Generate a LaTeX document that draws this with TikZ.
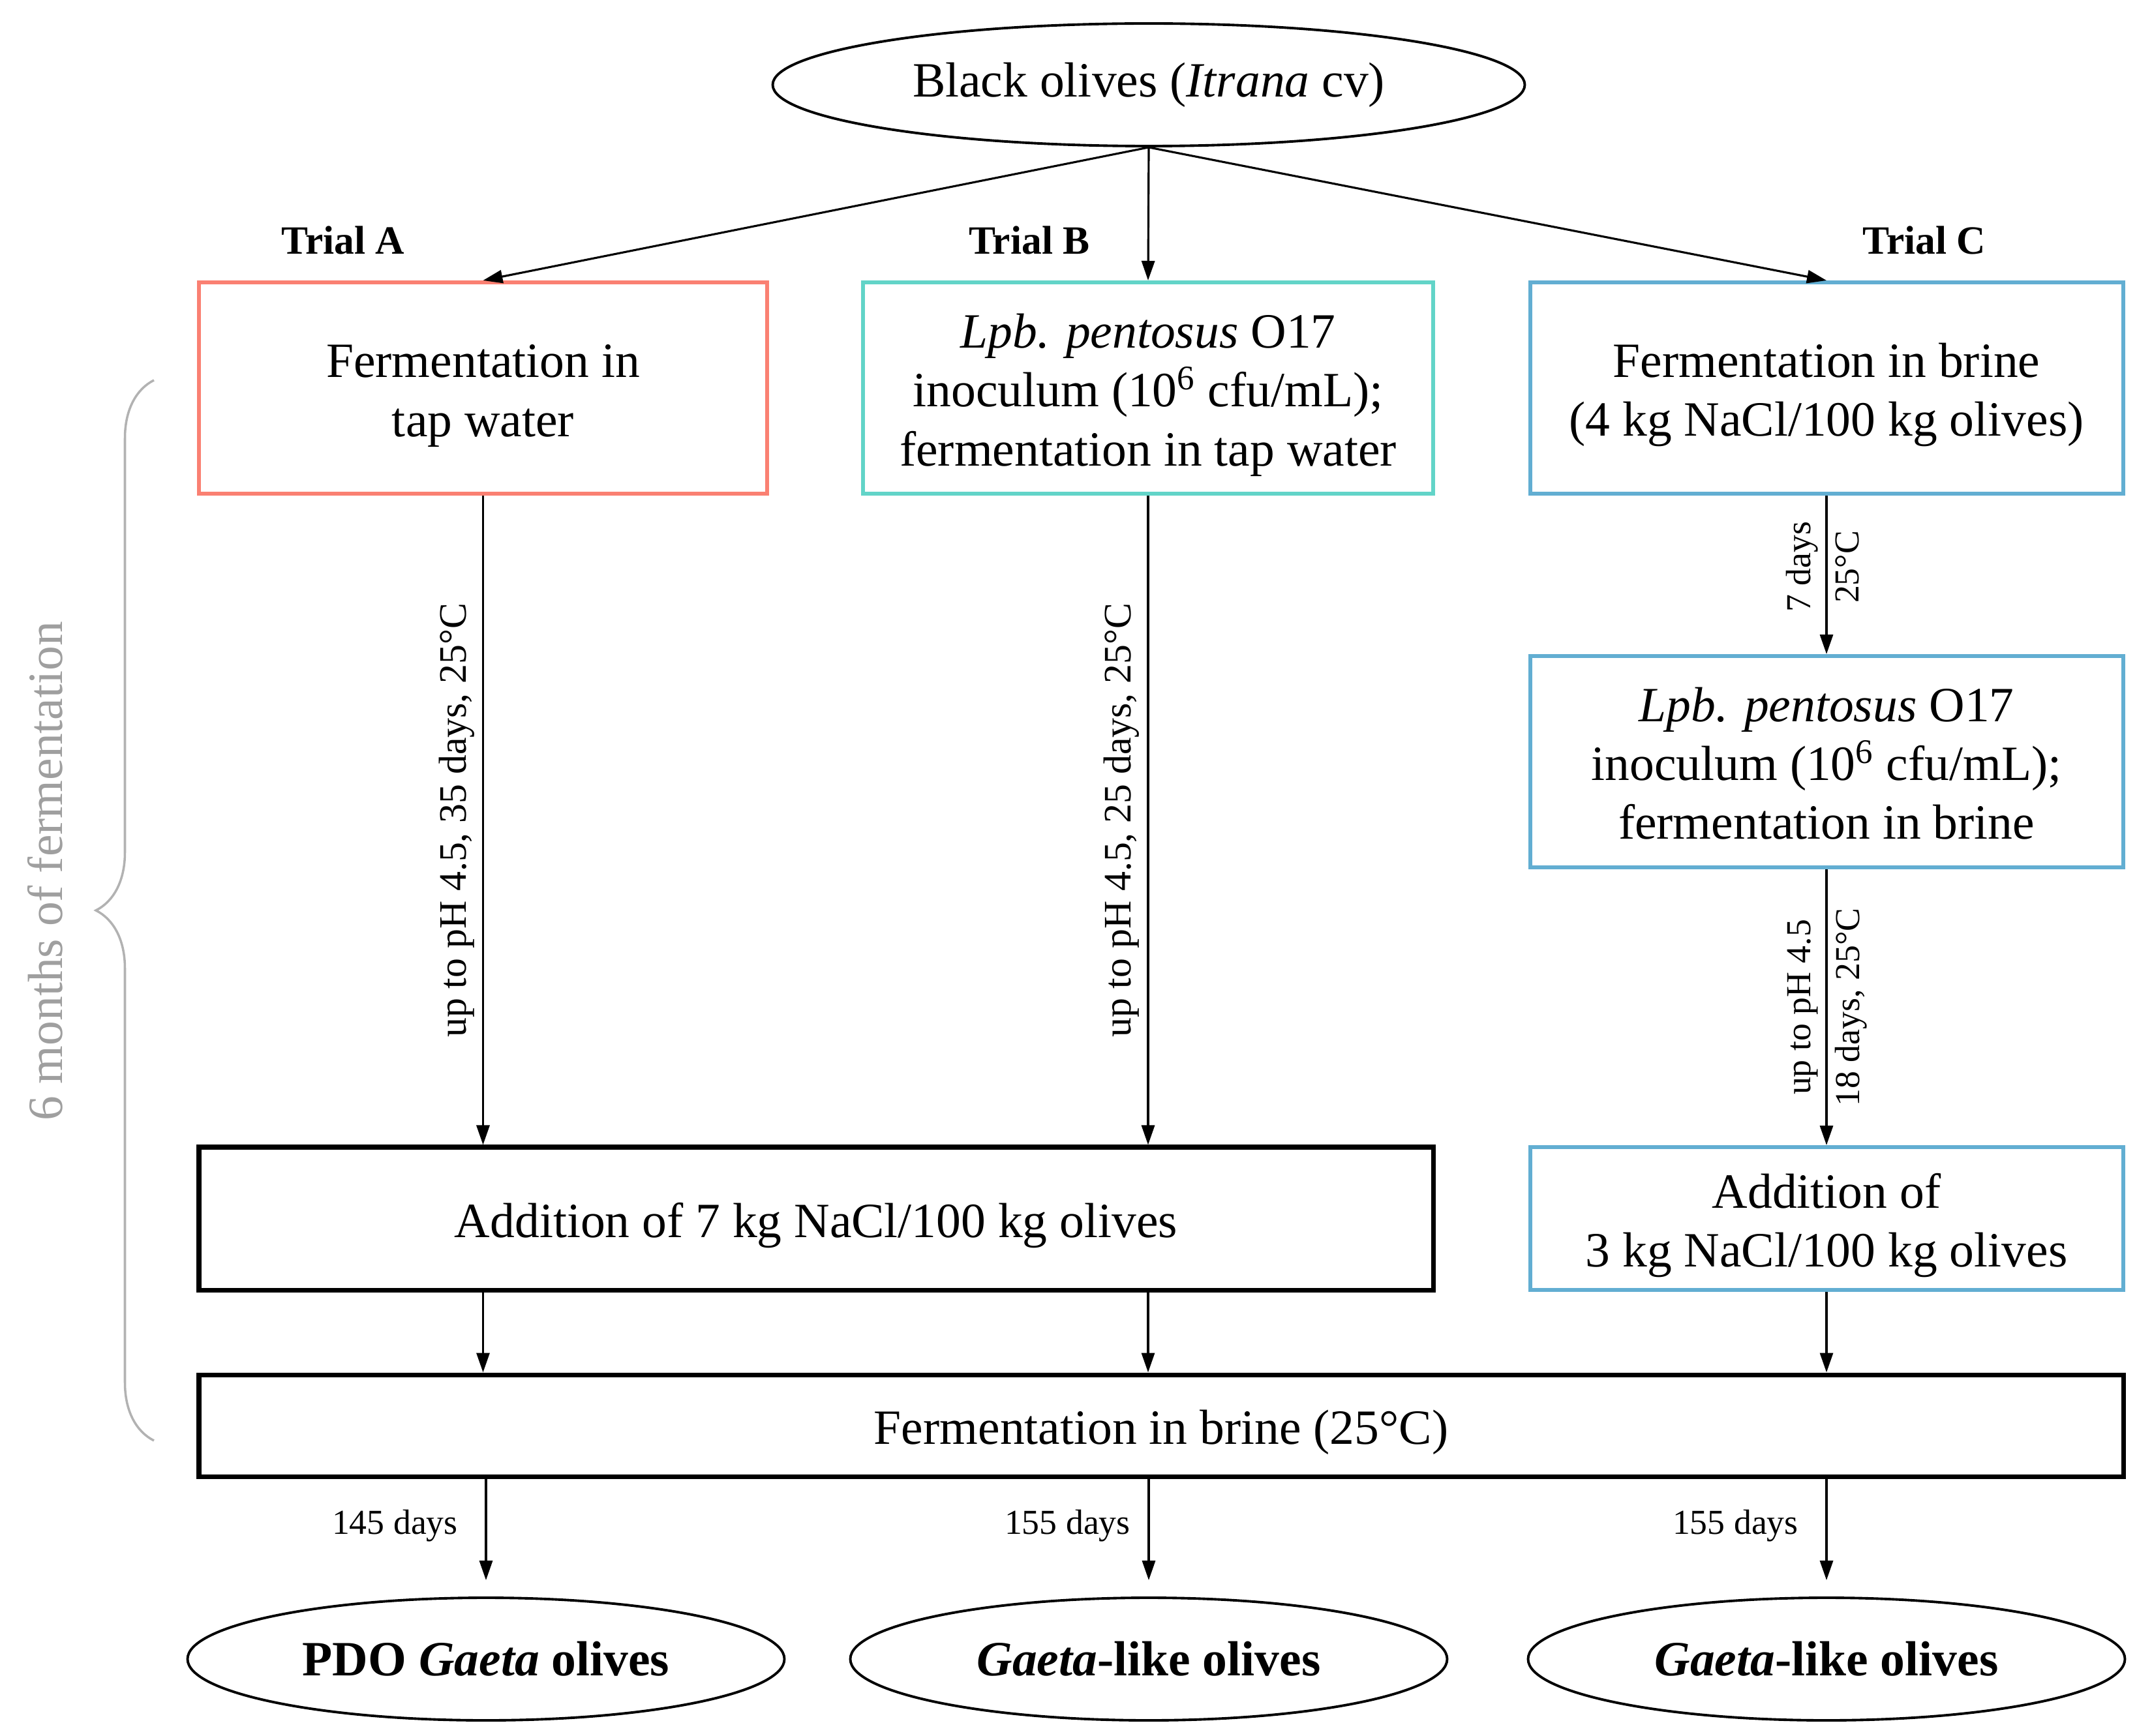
\documentclass[tikz,border=0pt]{standalone}
\usepackage{fontspec}
\setmainfont{Liberation Serif}
\usepackage{xcolor}
\usepackage{tikz}
\usetikzlibrary{shapes.geometric, arrows.meta, positioning, calc, decorations.pathreplacing}
\definecolor{TrialRed}{RGB}{250, 128, 114}
\definecolor{TrialGreen}{RGB}{98, 212, 200}
\definecolor{TrialBlue}{RGB}{98, 174, 210}
\newcommand{\bodyfont}{\fontsize{21.5}{25.7}\selectfont}
\newcommand{\notefont}{\fontsize{15.3}{18}\selectfont}
\newcommand{\boxstrut}{\rule{0pt}{21pt}}
\newcommand{\boxdepth}{\rule[-4.7pt]{0pt}{0pt}}

\begin{document}
\begin{tikzpicture}[
    font=\bodyfont,
    stepbox/.style={draw, line width=1.7pt, align=center, inner sep=0pt},
    olivenode/.style={draw, ellipse, line width=1.1pt, inner sep=0pt, minimum height=1.88cm},
    flow/.style={-{Triangle[length=0.3cm, width=0.2cm]}, line width=0.9pt},
    trial/.style={font=\fontsize{17.5}{20}\selectfont\bfseries},
    note/.style={font=\notefont},
    longnote/.style={font=\fontsize{17}{20}\selectfont}
    ]
    \useasboundingbox (0,0) rectangle (32.99,-26.62);

    % raw material
    \node[olivenode, minimum width=11.53cm] (olives) at (17.61,-1.30) {Black olives (\textit{Itrana} cv)};

    % trial headers
    \node[trial] (trialA) at (5.26,-3.68) {Trial A};
    \node[trial] (trialB) at (15.78,-3.68) {Trial B};
    \node[trial] (trialC) at (29.50,-3.68) {Trial C};

    % first step of each trial
    \node[stepbox, draw=TrialRed, minimum width=8.71cm, minimum height=3.24cm] (boxA) at (7.405,-5.95)
        {\boxstrut Fermentation in\\tap water};
    \node[stepbox, draw=TrialGreen, minimum width=8.74cm, minimum height=3.24cm] (boxB) at (17.60,-5.95)
        {\boxstrut\textit{Lpb. pentosus} O17\\inoculum (10\textsuperscript{6} cfu/mL);\\fermentation in tap water};
    \node[stepbox, draw=TrialBlue, minimum width=9.09cm, minimum height=3.24cm] (boxC) at (28.00,-5.95)
        {\boxstrut Fermentation in brine\\(4 kg NaCl/100 kg olives)};
    \node[stepbox, draw=TrialBlue, minimum width=9.09cm, minimum height=3.24cm] (boxC2) at (28.00,-11.68)
        {\boxstrut\textit{Lpb. pentosus} O17\\inoculum (10\textsuperscript{6} cfu/mL);\\fermentation in brine\boxdepth};

    % salt addition
    \node[stepbox, line width=2pt, minimum width=18.92cm, minimum height=2.19cm] (add7) at (12.51,-18.685)
        {\boxstrut Addition of 7 kg NaCl/100 kg olives};
    \node[stepbox, draw=TrialBlue, minimum width=9.09cm, minimum height=2.19cm] (add3) at (28.00,-18.685)
        {\boxstrut Addition of\\3 kg NaCl/100 kg olives};

    % common brine step
    \node[stepbox, line width=2pt, minimum width=29.5cm, minimum height=1.56cm] (brine) at (17.80,-21.86)
        {\boxstrut Fermentation in brine (25°C)};

    % products
    \node[olivenode, minimum width=9.15cm] (endA) at (7.45,-25.44) {\textbf{PDO \textit{Gaeta} olives}};
    \node[olivenode, minimum width=9.15cm] (endB) at (17.61,-25.44) {\textbf{\textit{Gaeta}-like olives}};
    \node[olivenode, minimum width=9.15cm] (endC) at (28.00,-25.44) {\textbf{\textit{Gaeta}-like olives}};

    % arrows
    \draw[flow] (olives.south) -- (boxA.north);
    \draw[flow] (olives.south) -- (boxB.north);
    \draw[flow] (olives.south) -- (boxC.north);

    \draw[flow] (boxA.south) -- (boxA.south |- add7.north)
        node[midway, rotate=90, anchor=south, longnote] {up to pH 4.5, 35 days, 25°C};
    \draw[flow] (boxB.south) -- (boxB.south |- add7.north)
        node[midway, rotate=90, anchor=south, longnote] {up to pH 4.5, 25 days, 25°C};
    \draw[flow] (boxC.south) -- (boxC2.north)
        node[pos=0.45, rotate=90, anchor=south, note] {7 days}
        node[pos=0.45, rotate=90, anchor=north, note] {25°C};
    \draw[flow] (boxC2.south) -- (add3.north)
        node[midway, rotate=90, anchor=south, note] {up to pH 4.5}
        node[midway, rotate=90, anchor=north, note] {18 days, 25°C};

    \draw[flow] (add7.south -| boxA.south) -- (brine.north -| boxA.south);
    \draw[flow] (add7.south -| boxB.south) -- (brine.north -| boxB.south);
    \draw[flow] (add3.south) -- (add3.south |- brine.north);

    \draw[flow, shorten >=0.25cm] (brine.south -| endA.north) -- (endA.north)
        node[pos=0.4, left=0.3cm, note] {145 days};
    \draw[flow, shorten >=0.25cm] (brine.south -| endB.north) -- (endB.north)
        node[pos=0.4, left=0.15cm, note] {155 days};
    \draw[flow, shorten >=0.25cm] (brine.south -| endC.north) -- (endC.north)
        node[pos=0.4, left=0.3cm, note] {155 days};

    % duration brace
    \coordinate (braceBottom) at (2.36,-22.09);
    \coordinate (braceTop) at (2.36,-5.83);
    \draw[gray!60, line width=1pt, decorate, decoration={brace, amplitude=0.89cm}] (braceBottom) -- (braceTop);
    \node[gray!75, rotate=90] (months) at (0.69,-13.36) {6 months of fermentation};
\end{tikzpicture}
\end{document}
